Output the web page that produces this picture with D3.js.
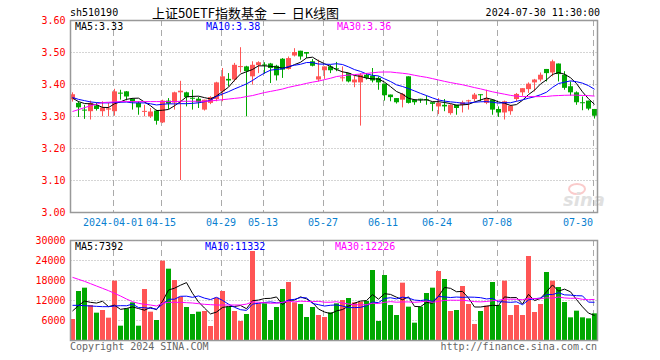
<!DOCTYPE html>
<html>
<head>
<meta charset="utf-8">
<script src="https://cdn.jsdelivr.net/npm/d3@7/dist/d3.min.js"></script>
<style>
  body { margin: 0; background: #fff; }
  text { font-family: "DejaVu Sans Mono", monospace; font-size: 10px; }
</style>
</head>
<body>
<div id="chart"></div>
<script>
// trading days shown (2024-03-21 .. 2024-07-30)
var dates = ["03-21","03-22","03-25","03-26","03-27","03-28","03-29",
  "04-01","04-02","04-03","04-08","04-09","04-10","04-11","04-12",
  "04-15","04-16","04-17","04-18","04-19","04-22","04-23","04-24","04-25","04-26",
  "04-29","04-30","05-06","05-07","05-08","05-09","05-10",
  "05-13","05-14","05-15","05-16","05-17","05-20","05-21","05-22","05-23","05-24",
  "05-27","05-28","05-29","05-30","05-31","06-03","06-04","06-05","06-06","06-07",
  "06-11","06-12","06-13","06-14","06-17","06-18","06-19","06-20","06-21",
  "06-24","06-25","06-26","06-27","06-28","07-01","07-02","07-03","07-04","07-05",
  "07-08","07-09","07-10","07-11","07-12","07-15","07-16","07-17","07-18","07-19",
  "07-22","07-23","07-24","07-25","07-26","07-29","07-30"];

var open = [3.352,3.341,3.320,3.315,3.333,3.315,3.320,3.315,3.373,3.377,
  3.354,3.341,3.314,3.299,3.317,3.280,3.348,3.342,3.374,3.374,
  3.357,3.354,3.320,3.341,3.353,3.377,3.416,3.414,3.454,3.455,
  3.424,3.459,3.461,3.464,3.457,3.479,3.447,3.489,3.504,3.500,
  3.471,3.414,3.443,3.455,3.449,3.418,3.434,3.405,3.405,3.429,
  3.426,3.419,3.401,3.367,3.356,3.351,3.424,3.351,3.354,3.352,
  3.343,3.330,3.335,3.309,3.335,3.335,3.347,3.353,3.368,3.341,
  3.351,3.322,3.311,3.315,3.353,3.374,3.384,3.405,3.414,3.447,
  3.436,3.464,3.429,3.393,3.374,3.343,3.348,3.322];
var high = [3.374,3.346,3.335,3.348,3.342,3.346,3.341,3.385,3.382,3.378,
  3.356,3.346,3.335,3.325,3.320,3.351,3.356,3.376,3.410,3.376,
  3.382,3.360,3.351,3.362,3.407,3.450,3.434,3.466,3.515,3.457,
  3.471,3.471,3.468,3.466,3.460,3.481,3.486,3.512,3.504,3.500,
  3.478,3.476,3.455,3.460,3.469,3.455,3.434,3.426,3.434,3.434,
  3.450,3.424,3.401,3.367,3.356,3.372,3.424,3.353,3.354,3.364,
  3.343,3.356,3.353,3.337,3.335,3.348,3.351,3.372,3.368,3.382,
  3.353,3.330,3.348,3.335,3.372,3.387,3.405,3.416,3.436,3.447,
  3.476,3.464,3.440,3.408,3.377,3.361,3.348,3.322];
var low = [3.345,3.297,3.291,3.289,3.317,3.299,3.299,3.301,3.351,3.349,
  3.320,3.304,3.299,3.294,3.273,3.278,3.322,3.320,3.100,3.330,
  3.320,3.325,3.317,3.337,3.346,3.346,3.393,3.408,3.436,3.299,
  3.398,3.434,3.432,3.403,3.411,3.419,3.445,3.486,3.476,3.481,
  3.455,3.408,3.416,3.434,3.440,3.408,3.405,3.390,3.270,3.414,
  3.405,3.382,3.348,3.346,3.339,3.327,3.339,3.335,3.341,3.335,
  3.315,3.306,3.315,3.304,3.304,3.311,3.320,3.346,3.346,3.337,
  3.304,3.297,3.289,3.304,3.346,3.363,3.372,3.377,3.408,3.408,
  3.424,3.408,3.382,3.364,3.335,3.318,3.318,3.292];
var close = [3.368,3.327,3.318,3.341,3.322,3.327,3.324,3.377,3.371,3.361,
  3.343,3.327,3.316,3.314,3.285,3.348,3.339,3.374,3.379,3.359,
  3.355,3.343,3.351,3.359,3.405,3.424,3.411,3.460,3.456,3.440,
  3.460,3.468,3.459,3.450,3.427,3.445,3.481,3.500,3.486,3.495,
  3.457,3.424,3.455,3.443,3.447,3.421,3.408,3.414,3.429,3.419,
  3.411,3.405,3.365,3.359,3.343,3.369,3.341,3.343,3.352,3.350,
  3.338,3.341,3.330,3.335,3.325,3.343,3.349,3.367,3.366,3.356,
  3.320,3.311,3.346,3.332,3.369,3.387,3.401,3.414,3.429,3.434,
  3.471,3.431,3.388,3.374,3.343,3.341,3.323,3.301];
var volume = [6300,14700,15700,10500,8200,9000,6700,17800,4300,9500,
  11300,4300,15300,8500,6000,23800,21400,18000,13000,9900,
  7800,8500,8700,4200,12700,14700,10000,8700,5700,7800,
  26700,11000,11000,6000,9900,15300,17400,11300,10800,6900,
  9900,7500,6900,8300,11000,12000,12600,11300,11500,11700,
  21000,5700,19500,10500,7500,17200,10000,5200,10000,14100,
  15700,20700,18300,8700,9000,16200,10800,4800,8700,10300,
  17400,10500,17800,7500,10500,7500,25200,8400,10800,20400,
  17800,15900,11400,6800,8800,6800,6500,8000];

// moving-average values for the first bars (their window starts before 03-21)
var ma5Head = [3.356,3.345,3.339,3.338];
var ma10Head = [3.358,3.352,3.348,3.344,3.342,3.341,3.341,3.342,3.343];
var ma30Head = [3.314,3.320,3.326,3.332,3.337,3.342,3.343,3.344,3.345,3.345,
  3.345,3.345,3.345,3.345,3.345,3.345,3.345,3.345,3.346,3.346,
  3.346,3.346,3.346,3.347,3.349,3.351,3.353,3.355,3.357];
var vMa5Head = [8700,10300,11700,11300];
var vMa10Head = [10400,10400,10300,10200,10100,10000,10000,10200,10300];
var vMa30Head = [18800,18200,17600,16900,16200,15500,14800,14000,13200,12300,
  11500,11000,10700,10500,10200,11000,11300,11300,11300,11200,
  11100,10900,10700,10600,10500,10500,10500,10500,10500];

var priceTicks = [3.00,3.10,3.20,3.30,3.40,3.50,3.60];
var volTicks = [6000,12000,18000,24000,30000];
var labelDays = [7,15,25,32,42,52,61,71,87];
var labelText = ["2024-04-01","04-15","04-29","05-13","05-27","06-11","06-24","07-08","07-30"];

function movingAvg(vals, n, head){
  return vals.map(function(v, i){
    if (i < head.length) return head[i];
    return d3.mean(vals.slice(i - n + 1, i + 1));
  });
}

function init(){
  var w = 660, h = 360;
  var left = 70.5, right = 597.5;
  var red = "#ff5555", green = "#00a800";

  var svg = d3.select("#chart").append("svg")
    .attr("width", w).attr("height", h);

  var xScale = d3.scaleBand()
    .domain(d3.range(close.length))
    .range([left - 1, right])
    .paddingInner(1/6)
    .paddingOuter(1/12);
  var cx = function(i){ return xScale(i) + xScale.bandwidth() / 2; };

  var yP = d3.scaleLinear().domain([3.0, 3.6]).range([212, 20]);
  var yV = d3.scaleLinear().domain([0, 30000]).range([340, 240]);

  // headers
  svg.append("text").attr("x", 70).attr("y", 16).text("sh510190");
  svg.append("text").attr("x", 152).attr("y", 18)
    .style("font-family", "'Noto Sans CJK SC', sans-serif").style("font-size", "13px")
    .style("white-space", "pre")
    .text("上证50ETF指数基金  一  日K线图");
  svg.append("text").attr("x", 600).attr("y", 16).attr("text-anchor", "end")
    .text("2024-07-30 11:30:00");

  // watermark
  var logo = svg.append("g").attr("opacity", 0.25);
  logo.append("ellipse").attr("cx", 577).attr("cy", 189).attr("rx", 8).attr("ry", 5)
    .attr("fill", "none").attr("stroke", "#e33").attr("stroke-width", 2);
  logo.append("text").attr("x", 563).attr("y", 206)
    .style("font-family", "'DejaVu Sans', sans-serif").style("font-size", "18px")
    .style("font-weight", "bold").style("font-style", "italic").attr("fill", "#888")
    .text("sina");

  function panel(y0, y1, yScale, ticks, fmt){
    var g = svg.append("g");
    // horizontal dotted grid
    g.selectAll("line.grid").data(ticks.filter(function(t){
        return yScale(t) > y0 + 1 && yScale(t) < y1 - 1; }))
      .enter().append("line")
      .attr("x1", left).attr("x2", right)
      .attr("y1", function(d){ return Math.round(yScale(d)) + 0.5; })
      .attr("y2", function(d){ return Math.round(yScale(d)) + 0.5; })
      .attr("stroke", "#aaa").attr("stroke-dasharray", "1,2");
    // vertical dashed date lines
    g.selectAll("line.day").data(labelDays).enter().append("line")
      .attr("x1", function(d){ return Math.round(cx(d) - 2) + 0.5; })
      .attr("x2", function(d){ return Math.round(cx(d) - 2) + 0.5; })
      .attr("y1", y0).attr("y2", y1)
      .attr("stroke", "#aaa").attr("stroke-dasharray", "6,4");
    // y labels
    var axis = d3.axisLeft(yScale).tickValues(ticks).tickSize(0).tickFormat(fmt);
    var ag = svg.append("g").attr("transform", "translate(" + (left - 2) + ",0)").call(axis);
    ag.select(".domain").remove();
    ag.selectAll("text").attr("fill", "#f00")
      .style("font-family", "'DejaVu Sans Mono', monospace").style("font-size", "10px");
    return g;
  }

  panel(20, 212, yP, priceTicks, d3.format(".2f"));
  panel(240, 340, yV, volTicks, d3.format("d"));

  // candles
  var idx = d3.range(close.length);
  var isUp = function(i){ return close[i] >= open[i]; };
  var cg = svg.append("g");
  cg.selectAll("line.wick").data(idx).enter().append("line")
    .attr("x1", function(i){ return cx(i); }).attr("x2", function(i){ return cx(i); })
    .attr("y1", function(i){ return yP(high[i]); }).attr("y2", function(i){ return yP(low[i]); })
    .attr("stroke", function(i){ return isUp(i) ? red : green; })
    .attr("stroke-width", 1);
  cg.selectAll("rect").data(idx).enter().append("rect")
    .attr("x", function(i){ return xScale(i); })
    .attr("width", xScale.bandwidth())
    .attr("y", function(i){ return yP(Math.max(open[i], close[i])); })
    .attr("height", function(i){ return Math.max(1, Math.abs(yP(open[i]) - yP(close[i]))); })
    .attr("fill", function(i){ return isUp(i) ? red : green; });

  // volume bars
  svg.append("g").selectAll("rect").data(idx).enter().append("rect")
    .attr("x", function(i){ return xScale(i); })
    .attr("width", xScale.bandwidth())
    .attr("y", function(i){ return yV(volume[i]); })
    .attr("height", function(i){ return yV(0) - yV(volume[i]); })
    .attr("fill", function(i){ return isUp(i) ? red : green; });

  // moving averages
  var lines = [
    [movingAvg(close, 5, ma5Head), yP, "#000"],
    [movingAvg(close, 10, ma10Head), yP, "#0000ff"],
    [movingAvg(close, 30, ma30Head), yP, "#ff00ff"],
    [movingAvg(volume, 5, vMa5Head), yV, "#000"],
    [movingAvg(volume, 10, vMa10Head), yV, "#0000ff"],
    [movingAvg(volume, 30, vMa30Head), yV, "#ff00ff"]
  ];
  lines.forEach(function(l){
    var line = d3.line().x(function(d, i){ return cx(i); }).y(function(d){ return l[1](d); });
    svg.append("path").datum(l[0]).attr("d", line)
      .attr("fill", "none").attr("stroke", l[2]).attr("stroke-width", 1);
  });

  // frames
  [[20, 212], [240, 340]].forEach(function(p){
    svg.append("rect").attr("x", left).attr("y", p[0] + 0.5)
      .attr("width", right - left).attr("height", p[1] - p[0])
      .attr("fill", "none").attr("stroke", "#999").attr("stroke-width", 1.5);
  });

  // date labels
  svg.selectAll("text.day").data(labelDays).enter().append("text")
    .attr("x", function(d){ return Math.round(cx(d) - 2); })
    .attr("y", 226)
    .attr("text-anchor", function(d, i){ return i === labelDays.length - 1 ? "end" : "middle"; })
    .attr("fill", "#0a7fd0")
    .text(function(d, i){ return labelText[i]; });

  // MA legends
  var legend = function(y, items){
    items.forEach(function(it){
      svg.append("text").attr("x", it[0]).attr("y", y).attr("fill", it[2]).text(it[1]);
    });
  };
  legend(30, [[75, "MA5:3.33", "#000"], [206, "MA10:3.38", "#0000ff"], [337, "MA30:3.36", "#ff00ff"]]);
  legend(250, [[75, "MA5:7392", "#000"], [205, "MA10:11332", "#0000ff"], [335, "MA30:12226", "#ff00ff"]]);

  svg.append("text").attr("x", 70).attr("y", 350).attr("fill", "#666").text("Copyright 2024 SINA.COM");
  svg.append("text").attr("x", 597).attr("y", 350).attr("text-anchor", "end").attr("fill", "#666")
    .text("http://finance.sina.com.cn");
}

window.onload = init;
</script>
</body>
</html>
